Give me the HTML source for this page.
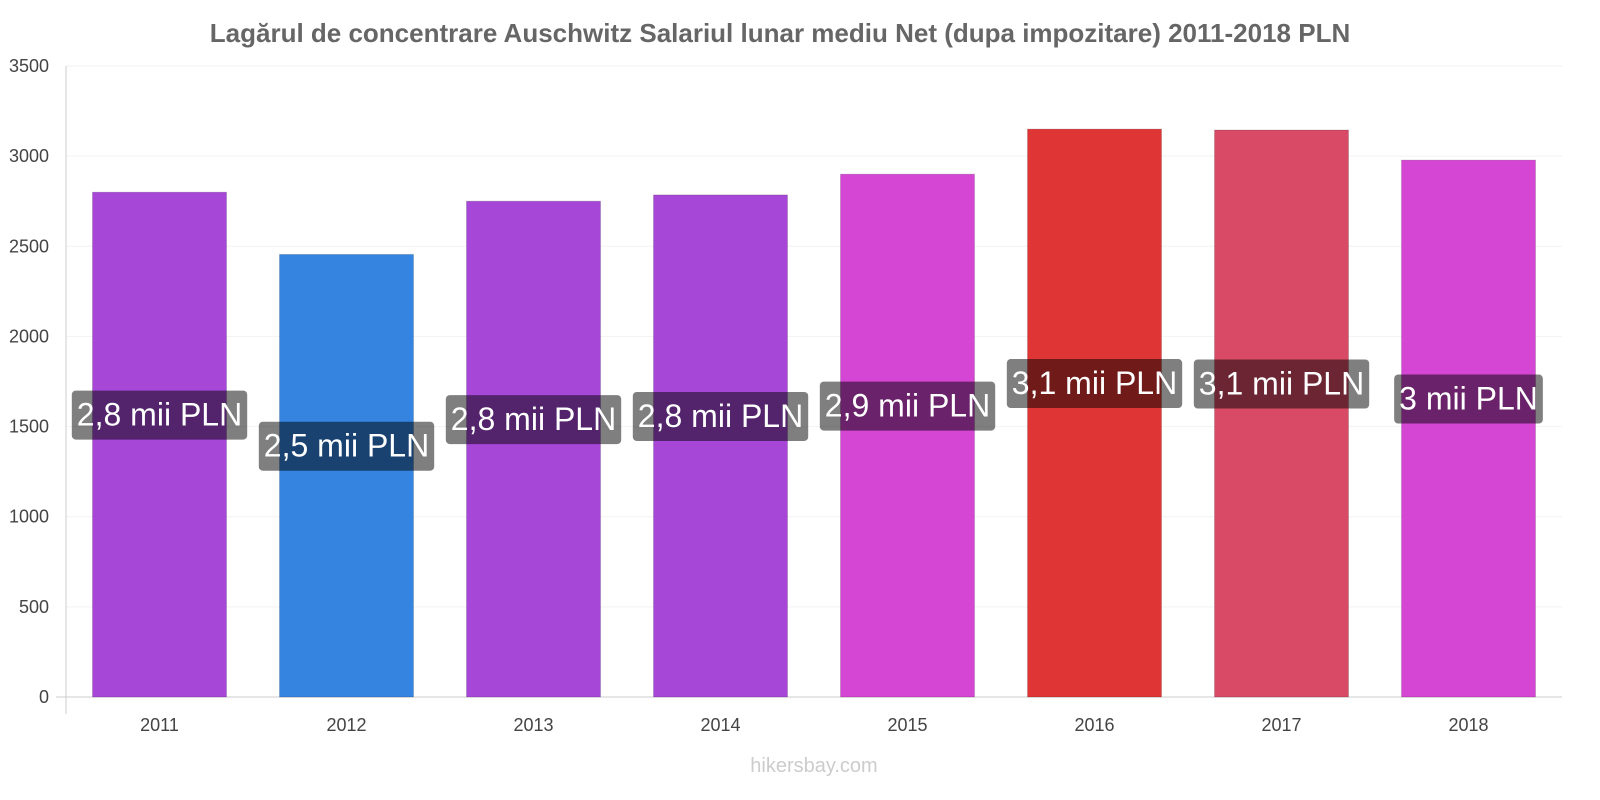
<!DOCTYPE html>
<html><head><meta charset="utf-8"><style>
body{margin:0;background:#fff;font-family:"Liberation Sans",sans-serif}
svg{display:block}
</style></head><body>
<svg id="chart" width="1600" height="800">
<text x="780" y="42" text-anchor="middle" font-size="26" font-weight="bold" fill="#666">Lagărul de concentrare Auschwitz Salariul lunar mediu Net (dupa impozitare) 2011-2018 PLN</text>
<g id="grid"></g><g id="bars"></g><g id="labels"></g>
<text x="814" y="772" text-anchor="middle" font-size="20" fill="#ccc">hikersbay.com</text>
</svg>
<script>
const categories=["2011","2012","2013","2014","2015","2016","2017","2018"];
const values=[2800,2455,2750,2785,2900,3150,3145,2978];
const valueLabels=["2,8 mii PLN","2,5 mii PLN","2,8 mii PLN","2,8 mii PLN","2,9 mii PLN","3,1 mii PLN","3,1 mii PLN","3 mii PLN"];
const colors=["#a647d8","#3584e0","#a647d8","#a647d8","#d546d4","#e03535","#d84a66","#d546d4"];
const yTicks=[0,500,1000,1500,2000,2500,3000,3500];
const NS="http://www.w3.org/2000/svg";
const x0=66,x1=1562,y0=697,yTop=66,yMax=3500;
const step=(x1-x0)/categories.length;
const y=v=>y0-(v/yMax)*(y0-yTop);
const xc=i=>x0+step*(i+0.5);
function mk(t,a,p){const e=document.createElementNS(NS,t);for(const k in a)e.setAttribute(k,a[k]);p.appendChild(e);return e;}
const grid=document.getElementById('grid'),bars=document.getElementById('bars'),labels=document.getElementById('labels');
yTicks.forEach(v=>{
 if(v>0){const l=mk('line',{x1:x0,x2:x1,y1:y(v),y2:y(v),stroke:'#f2f2f2'},grid);
 
 }
 const t=mk('text',{x:49,y:y(v)+6,'text-anchor':'end','font-size':18,fill:'#444'},grid);t.textContent=v;
 
 
});
const ax=mk('line',{x1:x0,x2:x0,y1:yTop,y2:y0+17,stroke:'#ccc'},grid);


const bx=mk('line',{x1:x0-10,x2:x1,y1:y0,y2:y0,stroke:'#ccc'},grid);


categories.forEach((c,i)=>{
 const bw=134,top=y(values[i]);
 const r=mk('rect',{x:xc(i)-bw/2,y:top,width:bw,height:y0-top,fill:colors[i],stroke:'rgba(0,0,0,0.15)'},bars);
 
 
 const t=mk('text',{x:xc(i),y:731,'text-anchor':'middle','font-size':18,fill:'#444'},labels);t.textContent=c;
 
 
 const cy=(top+y0)/2-30;
 const lt=mk('text',{x:xc(i),y:cy+11,'text-anchor':'middle','font-size':32,fill:'#fff'},labels);lt.textContent=valueLabels[i];
 const w=lt.getComputedTextLength()+10;
 const bg=mk('rect',{x:xc(i)-w/2,y:cy-24,width:w,height:49,rx:4,fill:'rgba(0,0,0,0.5)'},labels);
 labels.insertBefore(bg,lt);
 
 
 
 
});
</script>
</body></html>
